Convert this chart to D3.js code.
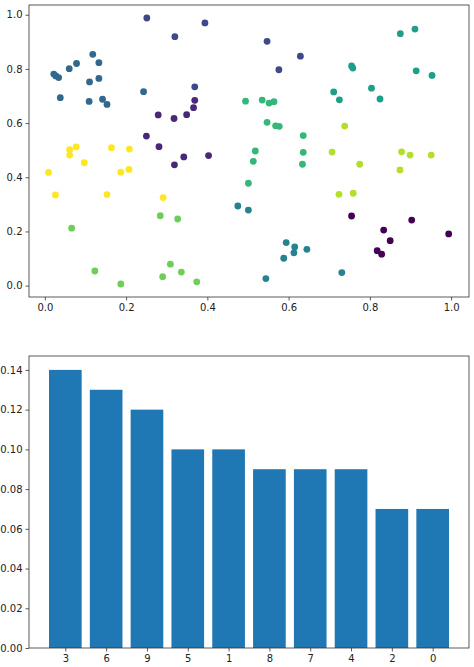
<!DOCTYPE html>
<html>
<head>
<meta charset="utf-8">
<script src="https://cdn.jsdelivr.net/npm/d3@7"></script>
<style>
body { margin: 0; background: #fff; }
text { font-family: "DejaVu Sans", sans-serif; font-size: 10px; fill: #222; }
</style>
</head>
<body>
<svg id="chart" width="474" height="667"></svg>
<script>
// scatter points per cluster label: [x, y]
var cluster0 = [[0.755,0.257],[0.903,0.242],[0.834,0.205],[0.850,0.166],[0.818,0.129],[0.829,0.116],[0.994,0.191]];
var cluster1 = [[0.250,0.552],[0.279,0.630],[0.318,0.617],[0.349,0.631],[0.366,0.657],[0.369,0.684],[0.281,0.513],[0.342,0.475],[0.319,0.446],[0.403,0.480]];
var cluster2 = [[0.251,0.988],[0.320,0.919],[0.394,0.970],[0.369,0.734],[0.547,0.902],[0.576,0.797],[0.629,0.847]];
var cluster3 = [[0.022,0.781],[0.027,0.774],[0.034,0.768],[0.038,0.694],[0.060,0.801],[0.078,0.820],[0.118,0.854],[0.110,0.752],[0.133,0.823],[0.133,0.765],[0.109,0.680],[0.142,0.688],[0.153,0.669],[0.243,0.716]];
var cluster4 = [[0.475,0.294],[0.501,0.279],[0.594,0.159],[0.615,0.143],[0.613,0.121],[0.645,0.134],[0.588,0.101],[0.544,0.026],[0.731,0.048]];
var cluster5 = [[0.875,0.930],[0.911,0.947],[0.755,0.811],[0.758,0.803],[0.914,0.793],[0.953,0.776],[0.711,0.715],[0.725,0.686],[0.804,0.729],[0.825,0.689]];
var cluster6 = [[0.494,0.681],[0.535,0.685],[0.552,0.674],[0.564,0.679],[0.547,0.603],[0.568,0.590],[0.577,0.588],[0.636,0.554],[0.636,0.492],[0.634,0.448],[0.518,0.497],[0.513,0.459],[0.501,0.378]];
var cluster7 = [[0.066,0.212],[0.284,0.258],[0.327,0.246],[0.123,0.054],[0.187,0.006],[0.290,0.033],[0.309,0.079],[0.336,0.050],[0.374,0.014]];
var cluster8 = [[0.738,0.589],[0.707,0.493],[0.775,0.448],[0.724,0.337],[0.759,0.341],[0.878,0.494],[0.899,0.482],[0.951,0.482],[0.874,0.427]];
var cluster9 = [[0.009,0.418],[0.026,0.335],[0.061,0.502],[0.061,0.482],[0.077,0.512],[0.097,0.454],[0.153,0.336],[0.164,0.509],[0.187,0.419],[0.208,0.504],[0.207,0.429],[0.291,0.325]];
var clusters = [cluster0, cluster1, cluster2, cluster3, cluster4, cluster5, cluster6, cluster7, cluster8, cluster9];

// bar chart: cluster label and share
var barLabels = ["3", "6", "9", "5", "1", "8", "7", "4", "2", "0"];
var barValues = [0.14, 0.13, 0.12, 0.10, 0.10, 0.09, 0.09, 0.09, 0.07, 0.07];

var scatterTicks = [0, 0.2, 0.4, 0.6, 0.8, 1.0];
var barTicks = [0, 0.02, 0.04, 0.06, 0.08, 0.10, 0.12, 0.14];

var $svg = d3.select("#chart");

var styleAxis = function(g) {
	g.selectAll(".domain").remove();
	g.selectAll(".tick line").attr("stroke", "#333").attr("stroke-width", 0.8);
	g.selectAll(".tick text").style("font-family", "DejaVu Sans, sans-serif").style("font-size", "10px").attr("fill", "#222");
};

var frame = function(left, top, right, bottom) {
	$svg.append("rect")
		.attr("x", left).attr("y", top)
		.attr("width", right - left).attr("height", bottom - top)
		.attr("fill", "none").attr("stroke", "#333").attr("stroke-width", 0.8);
};

// ---- scatter ----
var sc = { left: 29, right: 469, top: 5, bottom: 297 };
var sx = d3.scaleLinear().domain([-0.039, 1.044]).range([sc.left, sc.right]);
var sy = d3.scaleLinear().domain([-0.042, 1.036]).range([sc.bottom, sc.top]);
var color = function(i) { return d3.interpolateViridis(i / 9); };

$svg.append("g").attr("transform", "translate(0," + sc.bottom + ")")
	.call(d3.axisBottom(sx).tickValues(scatterTicks).tickFormat(d3.format(".1f")).tickSize(3.5).tickPadding(3))
	.call(styleAxis);
$svg.append("g").attr("transform", "translate(" + sc.left + ",0)")
	.call(d3.axisLeft(sy).tickValues(scatterTicks).tickFormat(d3.format(".1f")).tickSize(3.5).tickPadding(3))
	.call(styleAxis);

clusters.forEach(function(pts, ci) {
	$svg.append("g").selectAll("circle").data(pts).enter()
		.append("circle")
		.attr("cx", function(d) { return sx(d[0]); })
		.attr("cy", function(d) { return sy(d[1]); })
		.attr("r", 3.4)
		.attr("fill", color(ci));
});
frame(sc.left, sc.top, sc.right, sc.bottom);

// ---- bars ----
var bc = { left: 29, right: 469, top: 356, bottom: 648 };
var bx = d3.scaleLinear().domain([-0.89, 9.89]).range([bc.left, bc.right]);
var by = d3.scaleLinear().domain([0, 0.147]).range([bc.bottom, bc.top]);

$svg.append("g").selectAll("rect").data(barValues).enter()
	.append("rect")
	.attr("x", function(d, i) { return bx(i - 0.4); })
	.attr("width", function(d, i) { return bx(i + 0.4) - bx(i - 0.4); })
	.attr("y", function(d) { return by(d); })
	.attr("height", function(d) { return by(0) - by(d); })
	.attr("fill", "#1f77b4");

$svg.append("g").attr("transform", "translate(0," + bc.bottom + ")")
	.call(d3.axisBottom(bx).tickValues(d3.range(barLabels.length)).tickFormat(function(i) { return barLabels[i]; }).tickSize(3.5).tickPadding(3))
	.call(styleAxis);
$svg.append("g").attr("transform", "translate(" + bc.left + ",0)")
	.call(d3.axisLeft(by).tickValues(barTicks).tickFormat(d3.format(".2f")).tickSize(3.5).tickPadding(3))
	.call(styleAxis);
frame(bc.left, bc.top, bc.right, bc.bottom);
</script>
</body>
</html>
